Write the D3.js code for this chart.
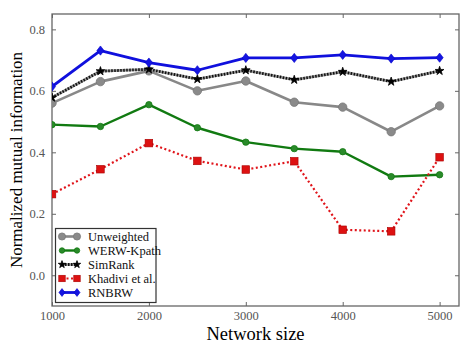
<!DOCTYPE html>
<html><head><meta charset="utf-8">
<script src="https://d3js.org/d3.v7.min.js"></script>
<style>body{margin:0;background:#fff}svg{display:block}</style>
</head><body>
<script>
const sizes = [1000,1500,2000,2500,3000,3500,4000,4500,5000];
const unweighted = [0.560,0.630,0.665,0.600,0.632,0.563,0.547,0.467,0.551];
const werwKpath = [0.490,0.484,0.555,0.480,0.433,0.412,0.402,0.321,0.327];
const simRank = [0.578,0.664,0.670,0.638,0.667,0.636,0.662,0.630,0.665];
const khadivi = [0.264,0.345,0.430,0.372,0.344,0.371,0.148,0.143,0.384];
const rnbrw = [0.614,0.731,0.692,0.667,0.707,0.707,0.717,0.705,0.708];
const seriesNames = ["Unweighted","WERW-Kpath","SimRank","Khadivi et al.","RNBRW"];
const xTicks = [1000,2000,3000,4000,5000];
const yTicks = [0.0,0.2,0.4,0.6,0.8];

const W=474,H=355;
const m={l:52,t:14,r:459,b:306};
const svg=d3.select("body").append("svg").attr("width",W).attr("height",H);
const x=d3.scaleLinear().domain([1000,5200]).range([m.l,m.r]);
const y=d3.scaleLinear().domain([-0.1,0.85]).range([m.b,m.t]);
const font="'Liberation Serif', 'DejaVu Serif', serif";

const styles=[
 {vals:unweighted,color:"#888888",w:2.6,dash:null,marker:"circle",size:4.2,fill:"#8a8a8a",stroke:"#777"},
 {vals:werwKpath,color:"#117a11",w:2.4,dash:null,marker:"circle",size:3.2,fill:"#2a8a2a",stroke:"#117a11"},
 {vals:simRank,color:"#111",w:2.8,dash:"1.5,1.5",marker:"star",size:3,fill:"#000",stroke:"#000"},
 {vals:khadivi,color:"#e0141a",w:2.2,dash:"2,2.5",marker:"square",size:3.8,fill:"#dd1111",stroke:"#aa0000"},
 {vals:rnbrw,color:"#1010dd",w:2.8,dash:null,marker:"diamond",size:4.2,fill:"#1515e0",stroke:"#0000cc"}
];

svg.append("clipPath").attr("id","c").append("rect").attr("x",m.l).attr("y",m.t).attr("width",m.r-m.l).attr("height",m.b-m.t);

const gx=svg.append("g").attr("transform",`translate(0,${m.b})`).call(d3.axisBottom(x).tickValues(xTicks).tickSize(-4).tickPadding(5).tickFormat(d3.format("d")));
const gxt=svg.append("g").attr("transform",`translate(0,${m.t})`).call(d3.axisTop(x).tickValues(xTicks).tickSize(-4).tickFormat(""));
const gy=svg.append("g").attr("transform",`translate(${m.l},0)`).call(d3.axisLeft(y).tickValues(yTicks).tickSize(-4).tickPadding(7).tickFormat(d3.format(".1f")));
const gyr=svg.append("g").attr("transform",`translate(${m.r},0)`).call(d3.axisRight(y).tickValues(yTicks).tickSize(-4).tickFormat(""));
[gx,gxt,gy,gyr].forEach(g=>{
  g.select(".domain").remove();
  g.selectAll(".tick line").attr("stroke","#666");
  g.selectAll("text").attr("font-family",font).attr("font-size",12.5).attr("fill","#555");
});
svg.append("rect").attr("x",m.l).attr("y",m.t).attr("width",m.r-m.l).attr("height",m.b-m.t)
  .attr("fill","none").attr("stroke","#666").attr("stroke-width",1.3);

function drawMarker(g,s,cx,cy,sc){
  const r=s.size*(sc||1);
  if(s.marker==="circle") g.append("circle").attr("cx",cx).attr("cy",cy).attr("r",r).attr("fill",s.fill).attr("stroke",s.stroke).attr("stroke-width",0.8);
  else if(s.marker==="square") g.append("rect").attr("x",cx-r).attr("y",cy-r).attr("width",2*r).attr("height",2*r).attr("fill",s.fill).attr("stroke",s.stroke).attr("stroke-width",0.6);
  else if(s.marker==="diamond") g.append("path").attr("d",`M${cx},${cy-r*1.1}L${cx+r*0.85},${cy}L${cx},${cy+r*1.1}L${cx-r*0.85},${cy}Z`).attr("fill",s.fill).attr("stroke",s.stroke).attr("stroke-width",0.6);
  else if(s.marker==="star") g.append("path").attr("d",d3.symbol(d3.symbolStar,r*r*2.6)()).attr("transform",`translate(${cx},${cy})`).attr("fill",s.fill).attr("stroke","#000").attr("stroke-width",0.8).attr("stroke-linejoin","round");
}

const plot=svg.append("g").attr("clip-path","url(#c)");
const line=d3.line().x((d,i)=>x(sizes[i])).y(d=>y(d));
styles.forEach(s=>{
  if(s.marker==="star"){
    plot.append("path").datum(s.vals).attr("d",line).attr("fill","none").attr("stroke","#999").attr("stroke-width",s.w);
  }
  plot.append("path").datum(s.vals).attr("d",line).attr("fill","none").attr("stroke",s.color)
    .attr("stroke-width",s.w).attr("stroke-dasharray",s.dash).attr("stroke-linejoin","round");
  s.vals.forEach((v,i)=>drawMarker(plot,s,x(sizes[i]),y(v)));
});

const lg=svg.append("g");
lg.append("rect").attr("x",55.5).attr("y",228.5).attr("width",100.5).attr("height",74).attr("fill","#fff").attr("stroke","#333").attr("stroke-width",1.2);
styles.forEach((s,i)=>{
  const yy=236.5+i*14;
  if(s.marker==="star") lg.append("line").attr("x1",62).attr("x2",77).attr("y1",yy).attr("y2",yy).attr("stroke","#999").attr("stroke-width",s.w);
  lg.append("line").attr("x1",62).attr("x2",77).attr("y1",yy).attr("y2",yy).attr("stroke",s.color).attr("stroke-width",s.w).attr("stroke-dasharray",s.dash);
  drawMarker(lg,s,62,yy,0.85);drawMarker(lg,s,77,yy,0.85);
  lg.append("text").attr("x",88).attr("y",yy+4).text(seriesNames[i]).attr("font-family",font).attr("font-size",12.5).attr("fill","#111");
});

svg.append("text").attr("x",(m.l+m.r)/2).attr("y",340).attr("text-anchor","middle").text("Network size")
  .attr("font-family",font).attr("font-size",18.5).attr("fill","#000");
svg.append("text").attr("transform",`translate(22,${(m.t+m.b)/2}) rotate(-90)`).attr("text-anchor","middle").text("Normalized mutual information")
  .attr("font-family",font).attr("font-size",17).attr("fill","#000");
</script>
</body></html>
